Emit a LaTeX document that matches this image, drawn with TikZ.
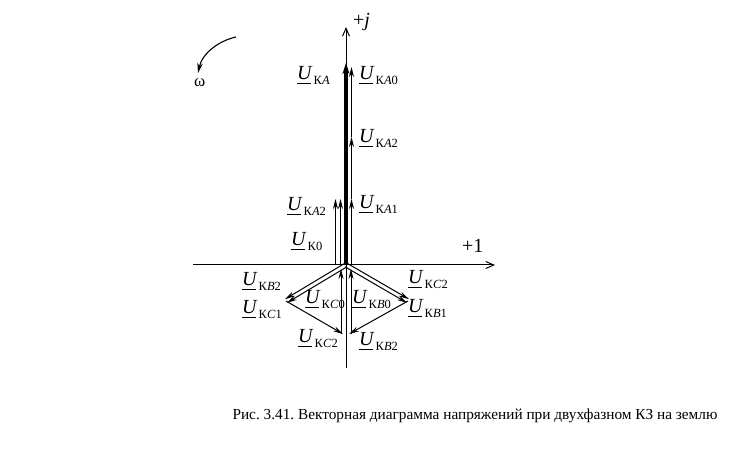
\documentclass[tikz,border=0pt]{standalone}
\usepackage{fontspec}
\setmainfont{Liberation Serif}
\usetikzlibrary{arrows.meta,calc}
\newcommand\UK[1]{\makebox[0pt][l]{\rule[-3.5pt]{14pt}{0.9pt}}\textit{U}\kern1pt\raisebox{-5pt}{\fontsize{12.5}{12.5}\selectfont К#1}}
\frenchspacing
\begin{document}
\begin{tikzpicture}[x=1pt,y=-1pt,
  lab/.style={anchor=base west,inner sep=0pt,font=\fontsize{20}{20}\selectfont},
  vec/.style={line width=1pt,-{Stealth[length=10pt,width=5pt]}},
  thickvec/.style={line width=3.2pt,-{Stealth[length=11pt,width=7pt]}},
  axis/.style={line width=1pt,-{Straight Barb[length=8pt,width=7pt]}},
  seg/.style={line width=1pt}]
\useasboundingbox (0,0) rectangle (740,454);
% key points
\coordinate (O) at (346,265);
\coordinate (xL) at (193,265);
\coordinate (xR) at (495,265);
\coordinate (yB) at (346,368);
\coordinate (yT) at (346,27);
% axes
\draw[axis] (xL) -- (xR);
\draw[axis] (yB) -- (yT);
% phase A
\coordinate (A0) at (346,265);
\coordinate (Atop) at (346,63);
\draw[thickvec] (A0) -- (Atop);
\coordinate (a1s) at (351.5,265);
\coordinate (a1e) at (351.5,199);
\coordinate (a2e) at (351.5,137);
\coordinate (a0e) at (351.5,67);
\draw[vec] (a1s) -- (a1e);
\draw[vec] (a1e) -- (a2e);
\draw[vec] (a2e) -- (a0e);
\coordinate (l2s) at (335.5,265);
\coordinate (l2e) at (335.5,199);
\coordinate (k0s) at (340.5,265);
\coordinate (k0e) at (340.5,199);
\draw[vec] (l2s) -- (l2e);
\draw[vec] (k0s) -- (k0e);
% lower-left double vectors
\coordinate (Ou1) at (345,263.2);
\coordinate (Ld1) at (285,299.2);
\coordinate (Ou2) at (347,266.8);
\coordinate (Ld2) at (287,302.8);
\draw[vec] (Ou1) -- (Ld1);
\draw[vec] (Ou2) -- (Ld2);
% lower-right double vectors
\coordinate (Or1) at (347,263.2);
\coordinate (Rd1) at (409,299.2);
\coordinate (Or2) at (345,266.8);
\coordinate (Rd2) at (407,302.8);
\draw[vec] (Or1) -- (Rd1);
\draw[vec] (Or2) -- (Rd2);
% to bottom
\coordinate (L) at (286,301);
\coordinate (R) at (408,301);
\coordinate (BL) at (343,334);
\coordinate (BR) at (349,334);
\draw[vec] (L) -- (BL);
\draw[vec] (R) -- (BR);
% zero sequence back up
\coordinate (c0s) at (341,334);
\coordinate (c0e) at (341,269);
\coordinate (b0s) at (351,334);
\coordinate (b0e) at (351,269);
\draw[vec] (c0s) -- (c0e);
\draw[vec] (b0s) -- (b0e);
% rotation arrow
\coordinate (w1) at (236,37);
\coordinate (w2) at (198,73);
\draw[line width=1.1pt,-{Stealth[length=10pt,width=5.5pt]}] (w1) .. controls (218,41) and (202,54) .. (w2);
% labels
\node[lab] (tj) at (353,27) {+\textit{j}};
\node[lab] (t1) at (462,253) {+1};
\node[lab,font=\fontsize{17}{17}\selectfont] (tw) at (194,87) {ω};
\node[lab] (nKA) at (297,80) {\UK{\textit{A}}};
\node[lab] (nKA0) at (359,80) {\UK{\textit{A}0}};
\node[lab] (nKA2r) at (359,143) {\UK{\textit{A}2}};
\node[lab] (nKA1) at (359,209) {\UK{\textit{A}1}};
\node[lab] (nKA2l) at (287,211) {\UK{\textit{A}2}};
\node[lab] (nK0) at (291,246) {\UK{0}};
\node[lab] (nKB2l) at (242,286) {\UK{\textit{B}2}};
\node[lab] (nKC1) at (242,314) {\UK{\textit{C}1}};
\node[lab] (nKC0) at (305,304) {\UK{\textit{C}0}};
\node[lab] (nKB0) at (352,304) {\UK{\textit{B}0}};
\node[lab] (nKC2r) at (408,284) {\UK{\textit{C}2}};
\node[lab] (nKB1) at (408,313) {\UK{\textit{B}1}};
\node[lab] (nKC2b) at (298,343) {\UK{\textit{C}2}};
\node[lab] (nKB2b) at (359,346) {\UK{\textit{B}2}};
\node[font=\fontsize{15.3}{15.3}\selectfont,anchor=base,inner sep=0pt] (cap) at (475,420) {Рис. 3.41. Векторная диаграмма напряжений при двухфазном КЗ на землю};
\end{tikzpicture}
\end{document}
